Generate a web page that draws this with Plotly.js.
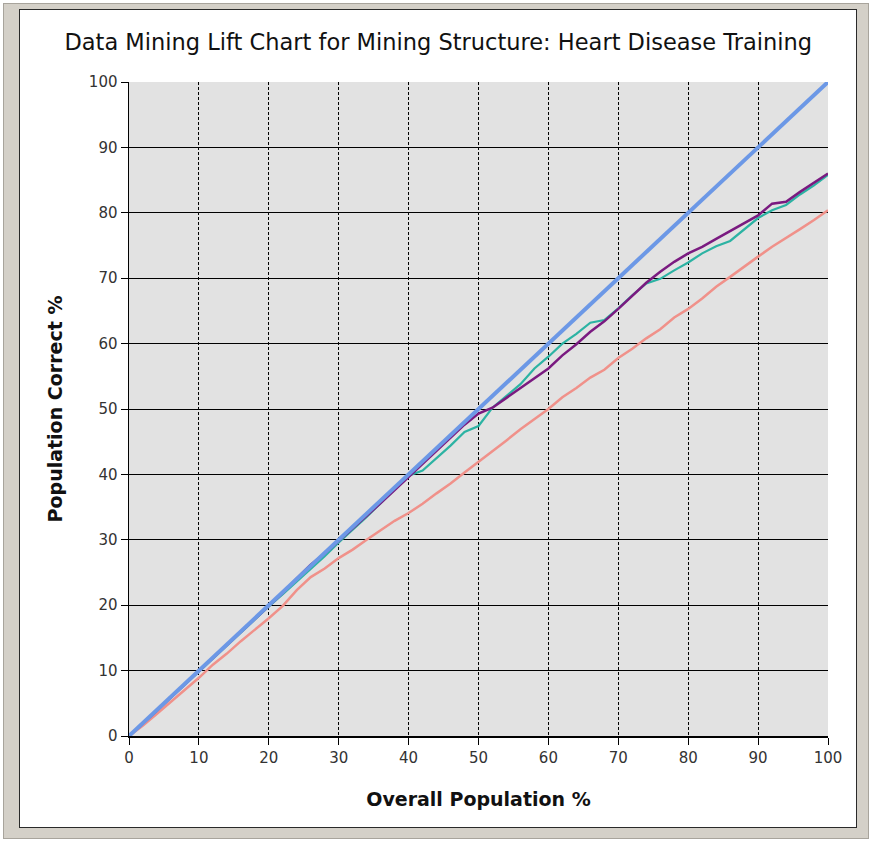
<!DOCTYPE html>
<html>
<head>
<meta charset="utf-8">
<script src="https://cdn.plot.ly/plotly-3.0.1.min.js"></script>
<style>
  html, body { margin: 0; padding: 0; background: #ffffff; width: 873px; height: 842px; overflow: hidden; }
  #frame { position: absolute; left: 3px; top: 3px; width: 864px; height: 834px; background: #d4d0c8; border: 1px solid #a8a49c; }
  #panel { position: absolute; left: 19px; top: 9px; width: 836px; height: 817px; background: #ffffff; border: 1px solid #2a2a2a; }
  #chart { position: absolute; left: 0; top: 0; width: 873px; height: 842px; }
</style>
</head>
<body>
<div id="frame"></div>
<div id="panel"></div>
<div id="chart"></div>
<script>
// ---- data ----
const xTicks = [0, 10, 20, 30, 40, 50, 60, 70, 80, 90, 100];
const yTicks = [0, 10, 20, 30, 40, 50, 60, 70, 80, 90, 100];

// ideal / diagonal line
const idealX = [0, 100];
const idealY = [0, 100];

const popX = [0, 2, 4, 6, 8, 10, 12, 14, 16, 18, 20, 22, 24, 26, 28, 30, 32, 34, 36, 38, 40,
              42, 44, 46, 48, 50, 52, 54, 56, 58, 60, 62, 64, 66, 68, 70, 72, 74, 76, 78, 80,
              82, 84, 86, 88, 90, 92, 94, 96, 98, 100];

// salmon series
const salmonY = [0, 1.6, 3.4, 5.2, 7.0, 8.9, 10.9, 12.6, 14.5, 16.2, 18.0, 19.9, 22.3, 24.3, 25.6, 27.2,
                 28.5, 30.0, 31.4, 32.9, 34.1, 35.5, 37.1, 38.6, 40.3, 41.9, 43.5, 45.2, 46.9, 48.4, 50.0,
                 51.8, 53.2, 54.8, 56.0, 57.8, 59.2, 60.8, 62.2, 64.0, 65.3, 66.9, 68.7, 70.2, 71.8, 73.3,
                 74.8, 76.1, 77.5, 78.9, 80.4];

// teal series
const tealY = [0, 1.9, 3.9, 5.9, 7.9, 9.9, 11.8, 13.8, 15.8, 17.8, 19.8, 21.7, 23.6, 25.6, 27.5, 29.6,
               31.5, 33.5, 35.6, 37.7, 39.8, 40.6, 42.5, 44.4, 46.5, 47.4, 50.2, 52.0, 53.8, 56.2, 58.0,
               60.0, 61.5, 63.2, 63.6, 65.4, 67.4, 69.2, 69.9, 71.2, 72.4, 73.8, 74.9, 75.7, 77.4, 79.2,
               80.4, 81.2, 82.8, 84.2, 85.8];

// purple series
const purpleY = [0, 1.9, 3.9, 5.9, 7.9, 9.9, 11.9, 13.9, 15.9, 17.9, 19.9, 21.9, 24.1, 26.2, 27.9, 29.8,
                 31.7, 33.7, 35.6, 37.6, 39.6, 41.5, 43.5, 45.5, 47.6, 49.3, 50.2, 51.7, 53.2, 54.6, 56.2,
                 58.2, 59.9, 61.8, 63.4, 65.3, 67.3, 69.3, 71.0, 72.5, 73.8, 74.8, 76.0, 77.2, 78.4, 79.6,
                 81.4, 81.7, 83.2, 84.6, 86.0];

const titleText = "Data Mining Lift Chart for Mining Structure: Heart Disease Training";
const xTitle = "Overall Population %";
const yTitle = "Population Correct %";

// ---- chart ----
const FONT = "'DejaVu Sans', Tahoma, sans-serif";

const traces = [
  { x: popX, y: salmonY, mode: 'lines', line: { color: '#f0918a', width: 2.5 }, hoverinfo: 'skip' },
  { x: popX, y: tealY, mode: 'lines', line: { color: '#2cb3a3', width: 2.2 }, hoverinfo: 'skip' },
  { x: popX, y: purpleY, mode: 'lines', line: { color: '#7a1a80', width: 2.5 }, hoverinfo: 'skip' },
  { x: idealX, y: idealY, mode: 'lines', line: { color: '#6c98e6', width: 4 }, hoverinfo: 'skip' }
];

const layout = {
  width: 873,
  height: 842,
  margin: { l: 129, r: 45, t: 82, b: 106 },
  paper_bgcolor: 'rgba(0,0,0,0)',
  plot_bgcolor: '#e2e2e2',
  showlegend: false,
  font: { family: FONT, color: '#222' },
  title: {
    text: titleText,
    font: { family: FONT, size: 22.5, color: '#111' },
    xref: 'container', x: 0.502, xanchor: 'center',
    yref: 'container', y: 0.95, yanchor: 'middle'
  },
  xaxis: {
    range: [0, 100],
    tickvals: xTicks,
    ticktext: xTicks.map(String),
    ticks: 'outside', ticklen: 7, tickcolor: '#000', tickwidth: 1,
    showline: true, linecolor: '#000', linewidth: 1.5,
    showgrid: true, gridcolor: '#000', gridwidth: 1, griddash: '3px,2px',
    zeroline: false,
    tickfont: { family: FONT, size: 15, color: '#333' },
    title: { text: xTitle, font: { family: FONT, size: 19, color: '#111', weight: 'bold' }, standoff: 27 },
    fixedrange: true
  },
  yaxis: {
    range: [0, 100],
    tickvals: yTicks,
    ticktext: yTicks.map(String),
    ticks: 'outside', ticklen: 7, tickcolor: '#000', tickwidth: 1,
    showline: true, linecolor: '#000', linewidth: 1.5,
    showgrid: true, gridcolor: '#000', gridwidth: 1,
    zeroline: false,
    tickfont: { family: FONT, size: 15, color: '#333' },
    title: { text: yTitle, font: { family: FONT, size: 19, color: '#111', weight: 'bold' }, standoff: 21 },
    fixedrange: true
  }
};

Plotly.newPlot('chart', traces, layout, { staticPlot: true, displayModeBar: false });
</script>
</body>
</html>
